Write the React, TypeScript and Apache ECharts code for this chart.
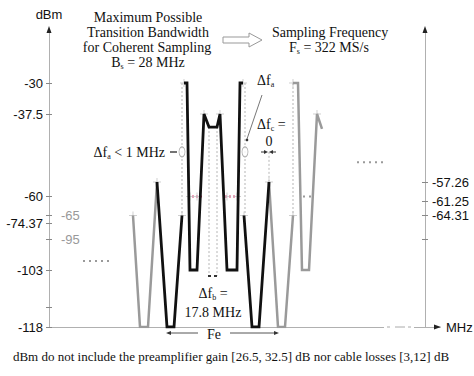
import React, { useEffect, useRef } from 'react';
import * as echarts from 'echarts';

// Schematic dBm scale: labelled levels and their heights above the baseline
const SCALE_DBM = [-118, -113, -103, -95, -74.37, -65, -64.31, -61.25, -60, -57.26, -37.5, -30];
const SCALE_POS = [0, 20, 57, 88, 104, 111.5, 112, 126, 130.5, 145, 213, 244];

const LEFT_TICK_DBM = [-30, -37.5, -60, -65, -74.37, -95, -103, -113, -118];
const LEFT_LABEL_DBM = [-30, -37.5, -60, -74.37, -103, -118];
const LEFT_LABELS = ['-30', '-37.5', '-60', '-74.37', '-103', '-118'];
const INNER_LABEL_DBM = [-65, -95];
const INNER_LABELS = ['-65', '-95'];
const RIGHT_TICK_DBM = [-57.26, -61.25, -64.31, -95];
const RIGHT_LABEL_DBM = [-57.26, -61.25, -64.31];
const RIGHT_LABELS = ['-57.26', '-61.25', '-64.31'];

// Spectrum traces (x in schematic MHz units, y in dBm)
const GRAY_LEFT_X = [84, 91, 99, 108];
const GRAY_LEFT_DBM = [-65, -118, -118, -57.26];
const BLACK_A_X = [108, 118, 125, 133];
const BLACK_A_DBM = [-57.26, -118, -118, -65];
const BLACK_B_X = [135, 138, 141, 148, 155, 160, 168, 171, 178, 188, 191, 194];
const BLACK_B_DBM = [-30, -30, -103, -103, -37.5, -41.3, -41.3, -37.5, -103, -103, -30, -30];
const BLACK_C_X = [195, 203, 210, 220];
const BLACK_C_DBM = [-65, -118, -118, -57.26];
const GRAY_RIGHT_X = [220, 229, 236, 244];
const GRAY_RIGHT_DBM = [-57.26, -118, -118, -65];
const GRAY_FAR_X = [244, 249, 253, 260, 268, 273];
const GRAY_FAR_DBM = [-30, -30, -103, -103, -37.5, -41.8];

// Small cross marks at trace vertices
const MARK_X = [84, 108, 133, 135, 155, 171, 194, 195, 220, 244, 244, 268, 141, 148, 178, 188];
const MARK_DBM = [-65, -57.26, -65, -30, -37.5, -37.5, -30, -65, -57.26, -65, -30, -37.5, -60, -60, -60, -60];

// Dotted guides
const GUIDE_X = [133, 160, 168, 196, 220, 244];
const GUIDE_TOP_DBM = [-30, -41.3, -41.3, -30, -48.5, -30];
const GUIDE_BOTTOM_DBM = [-65, -104.6, -104.6, -65, -57.26, -65];

const PINK_SEGMENTS_X = [[139, 153], [176, 191]];
const PINK_DBM = -60;
const GRAY_DOT_SEGMENTS_X = [[254, 264], [34, 61], [308, 334]];
const GRAY_DOT_DBM = [-60, -100.7, -51.5];

const ELLIPSE_X = [133, 196];
const ELLIPSE_DBM = -48.5;

function toPos(dbm: number): number {
  for (let i = 0; i < SCALE_DBM.length - 1; i++) {
    const a = SCALE_DBM[i], b = SCALE_DBM[i + 1];
    if (dbm >= a && dbm <= b) {
      return SCALE_POS[i] + ((dbm - a) / (b - a)) * (SCALE_POS[i + 1] - SCALE_POS[i]);
    }
  }
  return dbm < SCALE_DBM[0] ? SCALE_POS[0] : SCALE_POS[SCALE_POS.length - 1];
}

const pts = (xs: number[], ys: number[]) => xs.map((x, i) => [x, toPos(ys[i])]);
const labelFmt = (dbms: number[], labels: string[]) => (v: number) => {
  const i = dbms.findIndex((d) => Math.abs(toPos(d) - v) < 0.01);
  return i >= 0 ? labels[i] : '';
};

const SERIF = 'Liberation Serif';
const SANS = 'Liberation Sans';

export default function App() {
  const ref = useRef<HTMLDivElement>(null);
  useEffect(() => {
    if (!ref.current) return;
    const chart = echarts.init(ref.current, undefined, { renderer: 'svg' });

    const trace = (xs: number[], ys: number[], color: string, width: number) => ({
      type: 'line', data: pts(xs, ys), showSymbol: false, silent: true, z: 5,
      lineStyle: { color, width, join: 'miter' },
    });

    const series: any[] = [];
    GUIDE_X.forEach((x, i) => {
      series.push({
        type: 'line', data: [[x, toPos(GUIDE_TOP_DBM[i])], [x, toPos(GUIDE_BOTTOM_DBM[i])]],
        showSymbol: false, silent: true, z: 2,
        lineStyle: { color: '#b5b5b5', width: 1, type: [2, 2] },
      });
    });
    PINK_SEGMENTS_X.forEach((seg) => {
      series.push({
        type: 'line', data: seg.map((x) => [x, toPos(PINK_DBM)]), showSymbol: false, silent: true, z: 3,
        lineStyle: { color: '#e0457b', width: 2, type: [2, 2] },
      });
    });
    GRAY_DOT_SEGMENTS_X.forEach((seg, i) => {
      series.push({
        type: 'line', data: seg.map((x) => [x, toPos(GRAY_DOT_DBM[i])]), showSymbol: false, silent: true, z: 3,
        lineStyle: { color: '#9a9a9a', width: 2, type: [2, 4] },
      });
    });
    series.push({
      type: 'scatter', data: pts(MARK_X, MARK_DBM), silent: true, z: 4,
      symbol: 'path://M0,4L8,4M4,0L4,8', symbolSize: 8,
      itemStyle: { color: 'none', borderColor: '#c4c4c4', borderWidth: 1 },
    });
    series.push(trace(GRAY_LEFT_X, GRAY_LEFT_DBM, '#9a9a9a', 2.5));
    series.push(trace(GRAY_RIGHT_X, GRAY_RIGHT_DBM, '#9a9a9a', 2.5));
    series.push(trace(GRAY_FAR_X, GRAY_FAR_DBM, '#9a9a9a', 2.5));
    series.push(trace(BLACK_A_X, BLACK_A_DBM, '#111', 2.8));
    series.push(trace(BLACK_B_X, BLACK_B_DBM, '#111', 2.8));
    series.push(trace(BLACK_C_X, BLACK_C_DBM, '#111', 2.8));
    series.push({
      type: 'scatter', data: ELLIPSE_X.map((x) => [x, toPos(ELLIPSE_DBM)]), silent: true, z: 6,
      symbol: 'circle', symbolSize: [6, 10],
      itemStyle: { color: '#fff', borderColor: '#999', borderWidth: 1 },
    });

    const nrm = { fontFamily: SERIF, fontSize: 14, fill: '#111', lineHeight: 16 };
    const sub = { fontFamily: SERIF, fontSize: 8, fill: '#111', lineHeight: 4, verticalAlign: 'bottom' };
    const txt = (x: number, y: number, text: string, extra: any = {}) => ({
      type: 'text', x, y, z: 100, silent: true,
      style: { text, fontFamily: SERIF, fontSize: 14, fill: '#111', align: 'center', verticalAlign: 'middle', rich: { n: nrm, s: sub }, ...extra },
    });
    const seg = (x1: number, y1: number, x2: number, y2: number, stroke = '#444', lineWidth = 1) => ({
      type: 'line', z: 100, silent: true, shape: { x1, y1, x2, y2 }, style: { stroke, lineWidth },
    });
    const tri = (points: number[][], fill = '#333') => ({
      type: 'polygon', z: 100, silent: true, shape: { points }, style: { fill },
    });

    const graphic: any[] = [
      txt(49, 14, 'dBm', { fontFamily: SANS, fontSize: 13 }),
      txt(148, 17, 'Maximum Possible'),
      txt(148, 32, 'Transition Bandwidth'),
      txt(147, 47, 'for Coherent Sampling'),
      txt(148, 62, '{n|B}{s|s}{n| = 28 MHz}'),
      txt(330, 32, 'Sampling Frequency'),
      txt(329, 47, '{n|F}{s|s}{n| = 322 MS/s}'),
      {
        type: 'polygon', z: 100, silent: true,
        shape: { points: [[223, 37], [249, 37], [249, 33], [262, 40], [249, 47], [249, 43], [223, 43]] },
        style: { fill: '#fff', stroke: '#999', lineWidth: 1 },
      },
      txt(165, 152, '{n|Δf}{s|a}{n| < 1 MHz}', { align: 'right' }),
      seg(170, 152, 177, 152, '#444', 1.5),
      txt(257, 80, '{n|Δf}{s|a}', { align: 'left' }),
      seg(262, 95, 247, 139, '#777', 1),
      { type: 'circle', z: 100, silent: true, shape: { cx: 247, cy: 140, r: 1.3 }, style: { fill: '#333' } },
      txt(257, 124, '{n|Δf}{s|c}{n| =}', { align: 'left' }),
      txt(269, 141, '0'),
      seg(261, 152, 265, 152, '#333', 1),
      tri([[268, 152], [264, 150], [264, 154]]),
      seg(272, 152, 276, 152, '#333', 1),
      tri([[269, 152], [273, 150], [273, 154]]),
      seg(208, 276, 211, 276, '#333', 2),
      seg(214, 276, 217, 276, '#333', 2),
      txt(213, 293, '{n|Δf}{s|b}{n| =}'),
      txt(213, 312, '17.8 MHz'),
      txt(214, 334, 'Fe'),
      seg(170, 333, 198, 333, '#555', 1),
      tri([[166, 333], [171, 331], [171, 335]]),
      seg(230, 333, 275, 333, '#555', 1),
      tri([[279, 333], [274, 331], [274, 335]]),
      { type: 'rect', z: 100, silent: true, shape: { x: 384, y: 324, width: 30, height: 6 }, style: { fill: '#fff' } },
      seg(387, 327, 390, 327, '#aaa', 1),
      seg(395, 327, 405, 327, '#aaa', 1),
      seg(408, 327, 411, 327, '#aaa', 1),
      tri([[49, 26], [46.5, 33], [51.5, 33]], '#222'),
      tri([[425, 26], [422.5, 33], [427.5, 33]], '#222'),
      tri([[441, 327], [434, 324.5], [434, 329.5]], '#222'),
      txt(446, 327, 'MHz', { fontFamily: SANS, fontSize: 13, align: 'left' }),
      txt(231, 356, 'dBm do not include the preamplifier gain [26.5, 32.5] dB nor cable losses [3,12] dB', { fontSize: 13 }),
    ];

    const axisLineStyle = { color: '#b0b0b0', width: 1 };
    chart.setOption({
      animation: false,
      grid: { left: 49, top: 29, width: 391, height: 298, outerBoundsMode: 'none' },
      xAxis: {
        type: 'value', min: 0, max: 391,
        axisLine: { show: true, lineStyle: axisLineStyle },
        axisTick: { show: false }, axisLabel: { show: false }, splitLine: { show: false },
      },
      yAxis: [
        {
          type: 'value', min: 0, max: 298, position: 'left',
          axisLine: { show: true, onZero: false, lineStyle: axisLineStyle },
          axisTick: { show: true, length: 3, customValues: LEFT_TICK_DBM.map(toPos), lineStyle: { color: '#888' } },
          axisLabel: {
            show: true, customValues: LEFT_LABEL_DBM.map(toPos), formatter: labelFmt(LEFT_LABEL_DBM, LEFT_LABELS),
            color: '#111', fontFamily: SANS, fontSize: 13, margin: 6,
          },
          splitLine: { show: false },
        },
        {
          type: 'value', min: 0, max: 298, position: 'right', offset: -15,
          axisLine: { show: true, onZero: false, lineStyle: axisLineStyle },
          axisTick: { show: true, length: 3, customValues: RIGHT_TICK_DBM.map(toPos), lineStyle: { color: '#888' } },
          axisLabel: {
            show: true, customValues: RIGHT_LABEL_DBM.map(toPos), formatter: labelFmt(RIGHT_LABEL_DBM, RIGHT_LABELS),
            color: '#111', fontFamily: SANS, fontSize: 13, margin: 7,
          },
          splitLine: { show: false },
        },
        {
          type: 'value', min: 0, max: 298, position: 'left',
          axisLine: { show: false },
          axisTick: { show: true, inside: true, length: 3, customValues: LEFT_TICK_DBM.map(toPos), lineStyle: { color: '#888' } },
          axisLabel: {
            show: true, inside: true, customValues: INNER_LABEL_DBM.map(toPos), formatter: labelFmt(INNER_LABEL_DBM, INNER_LABELS),
            color: '#999', fontFamily: SANS, fontSize: 13, margin: 12,
          },
          splitLine: { show: false },
        },
        {
          type: 'value', min: 0, max: 298, position: 'right', offset: -15,
          axisLine: { show: false },
          axisTick: { show: true, inside: true, length: 3, customValues: RIGHT_TICK_DBM.map(toPos), lineStyle: { color: '#888' } },
          axisLabel: { show: false },
          splitLine: { show: false },
        },
      ],
      series,
      graphic,
    });
    return () => chart.dispose();
  }, []);
  return <div ref={ref} style={{ position: 'absolute', left: 0, top: 0, width: 474, height: 376 }} />;
}
